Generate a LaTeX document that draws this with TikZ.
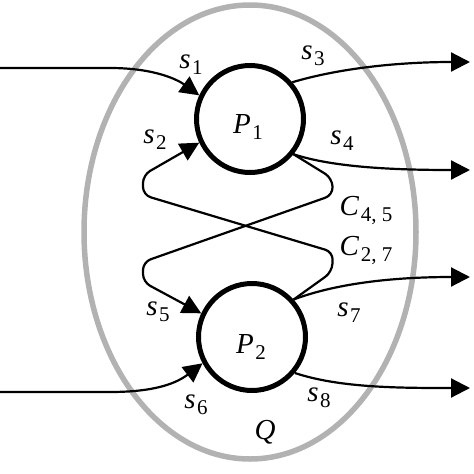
\documentclass[tikz,border=0pt]{standalone}
\usepackage{fontspec}
\setmainfont{Liberation Serif}
\usetikzlibrary{arrows.meta}
\newcommand{\sig}[2]{\textit{#1}\kern1.5pt\raisebox{-6pt}{\fontsize{21}{21}\selectfont #2}}

\begin{document}
\begin{tikzpicture}[x=1pt,y=-1pt,
		proc/.style={draw,circle,line width=5pt,minimum size=107pt,inner sep=0pt},
		lab/.style={font=\fontsize{29}{32}\selectfont,inner sep=0pt},
		flow/.style={line width=2.2pt,-{Triangle[length=19pt,width=19pt]}},
		link/.style={rounded corners=8pt}]
	\useasboundingbox (0,0) rectangle (474,474);
	\draw[gray!60,line width=5.5pt] (250,232) ellipse [x radius=166pt,y radius=227pt];
	\node[proc] (P1) at (250,119) {};
	\node[proc] (P2) at (252,337) {};
	\coordinate (in1) at (0,68);
	\coordinate (in2) at (0,392);
	\coordinate (out3) at (470,62);
	\coordinate (out4) at (470,170);
	\coordinate (out7) at (470,277);
	\coordinate (out8) at (470,388);
	% inputs and outputs
	\draw[flow] (in1) -- (110,68) .. controls (155,68) and (178,80) .. (P1.155);
	\draw[flow] (in2) -- (110,392) .. controls (158,392) and (178,382) .. (P2.208);
	\draw[flow] (P1.41) .. controls (340,68) and (400,62) .. (out3);
	\draw[flow] (P1.-39) .. controls (335,168) and (400,170) .. (out4);
	\draw[flow] (P2.42) .. controls (340,282) and (400,277) .. (out7);
	\draw[flow] (P2.-40) .. controls (340,388) and (400,388) .. (out8);
	% crossed links
	\draw[flow,link] (P1.-39) -- (332,178) -- (333,195) -- (143,262) -- (143,282) -- (P2.155);
	\draw[flow,link] (P2.42) -- (332,272) -- (333,252) -- (143,195) -- (143,175) -- (P1.205);
	\node[lab] (tP1) at (248,127) {\sig{P}{1}};
	\node[lab] (tP2) at (251,347) {\sig{P}{2}};
	\node[lab] (s1) at (191,65) {\sig{s}{1}};
	\node[lab] (s2) at (155,140) {\sig{s}{2}};
	\node[lab] (s3) at (313,56) {\sig{s}{3}};
	\node[lab] (s4) at (342,141) {\sig{s}{4}};
	\node[lab] (s5) at (158,312) {\sig{s}{5}};
	\node[lab] (s6) at (196,405) {\sig{s}{6}};
	\node[lab] (s7) at (349,313) {\sig{s}{7}};
	\node[lab] (s8) at (319,398) {\sig{s}{8}};
	\node[lab] (c45) at (366,211) {\sig{C}{4, 5}};
	\node[lab] (c27) at (366,251) {\sig{C}{2, 7}};
	\node[lab] (q) at (265,432) {\textit{Q}};
\end{tikzpicture}
\end{document}
